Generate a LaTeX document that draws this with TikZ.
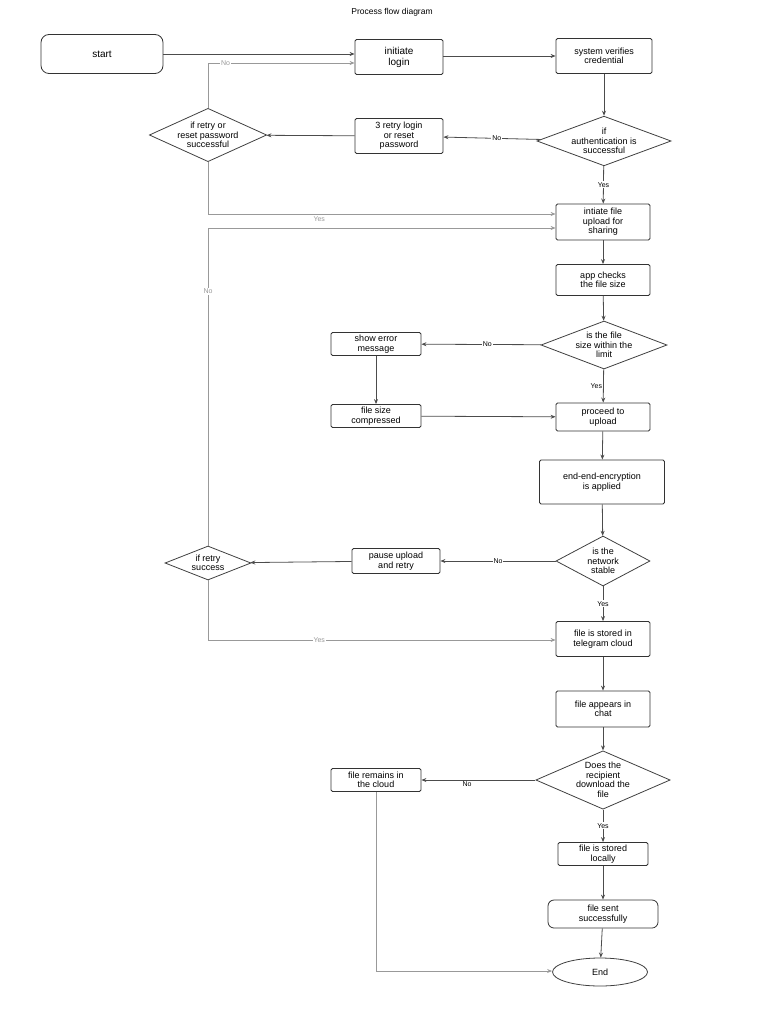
\documentclass[tikz,border=0pt]{standalone}
\usepackage{fontspec}
\setmainfont{Liberation Sans}
\usetikzlibrary{shapes.geometric,arrows.meta}
\tikzset{
  box/.style={draw=black!80,thick,rounded corners=1.5pt,align=center,font=\fontsize{9}{9.5}\selectfont,inner sep=1pt},
  dec/.style={draw=black!75,thick,diamond,aspect=#1,align=center,font=\fontsize{9}{9.5}\selectfont,inner sep=0pt},
  flow/.style={draw=black!70,thick,-{Stealth[length=5pt,width=4pt]}},
  lab/.style={font=\fontsize{7}{7}\selectfont,fill=white,inner sep=1pt}
}
\begin{document}
\begin{tikzpicture}[x=1pt,y=-1pt]
\useasboundingbox (0,0) rectangle (768,1024);
\node[font=\fontsize{8.5}{9}\selectfont] (title) at (392,12) {Process flow diagram};
\node[box,rounded corners=8pt,minimum width=122,minimum height=39,font=\fontsize{10}{11}\selectfont] (start) at (102,54) {start};
\node[box,minimum width=88,minimum height=35,font=\fontsize{10}{11}\selectfont] (login) at (399,57) {initiate\\login};
\node[box,minimum width=96,minimum height=35] (verify) at (604,56) {system verifies\\credential};
\node[dec=2.7,minimum width=126,minimum height=46] (auth) at (604,141) {if\\authentication is\\successful};
\node[box,minimum width=88,minimum height=35] (retry3) at (399,136) {3 retry login\\or reset\\password};
\node[dec=2.2,minimum width=111,minimum height=50] (rdec) at (208,135) {if retry or\\reset password\\successful};
\node[box,minimum width=94,minimum height=36] (upload) at (603,222) {intiate file\\upload for\\sharing};
\node[box,minimum width=94,minimum height=31] (checks) at (603,280) {app checks\\the file size};
\node[dec=2.6,minimum width=126,minimum height=48] (size) at (604,345) {is the file\\size within the\\limit};
\node[box,minimum width=90,minimum height=23] (error) at (376,344) {show error\\message};
\node[box,minimum width=90,minimum height=23] (comp) at (376,416) {file size\\compressed};
\node[box,minimum width=94,minimum height=28] (proceed) at (603,417) {proceed to\\upload};
\node[box,minimum width=125,minimum height=44] (enc) at (602,482) {end-end-encryption\\is applied};
\node[dec=1.9,minimum width=94,minimum height=50] (net) at (603,561) {is the\\network\\stable};
\node[box,minimum width=88,minimum height=25] (pause) at (396,561) {pause upload\\and retry};
\node[dec=2.5,minimum width=86,minimum height=34] (sdec) at (208,563) {if retry\\success};
\node[box,minimum width=94,minimum height=35] (cloud) at (603,639) {file is stored in\\telegram cloud};
\node[box,minimum width=94,minimum height=36] (appear) at (603,709) {file appears in\\chat};
\node[dec=2.3,minimum width=127,minimum height=56] (dl) at (603,780) {Does the\\recipient\\download the\\file};
\node[box,minimum width=90,minimum height=23] (remain) at (376,780) {file remains in\\the cloud};
\node[box,minimum width=90,minimum height=23] (local) at (603,854) {file is stored\\locally};
\node[box,rounded corners=6pt,minimum width=110,minimum height=28] (sent) at (603,914) {file sent\\successfully};
\node[draw=black!75,thick,ellipse,minimum width=95,minimum height=28,font=\fontsize{9}{9.5}\selectfont] (end) at (600,972) {End};
\coordinate (c1) at (208,63);
\coordinate (c2) at (208,214);
\coordinate (c3) at (208,228);
\coordinate (c4) at (208,640);
\coordinate (c5) at (376,971);

\draw[flow] (start) -- (login.west |- start);
\draw[flow,black!40] (rdec.north) -- (c1) -- node[lab,pos=0.12]{No} (login.west |- c1);
\draw[flow] (login.east |- verify) -- (verify);
\draw[flow] (verify) -- (auth);
\draw[flow] (auth) -- node[lab,pos=0.45]{No} (retry3);
\draw[flow] (retry3) -- (rdec);
\draw[flow,black!40] (rdec.south) -- (c2) -- node[lab,below=1pt,fill=none,pos=0.32]{Yes} (upload.west |- c2);
\draw[flow] (auth) -- node[lab]{Yes} (upload);
\draw[flow,black!40] (sdec.north) -- node[lab,pos=0.8]{No} (c3) -- (upload.west |- c3);
\draw[flow] (upload) -- (checks);
\draw[flow] (checks) -- (size);
\draw[flow] (size) -- node[lab,pos=0.45]{No} (error);
\draw[flow] (size) -- node[lab,left=0pt,fill=none]{Yes} (proceed);
\draw[flow] (error) -- (comp);
\draw[flow] (comp) -- (proceed);
\draw[flow] (proceed) -- (enc);
\draw[flow] (enc) -- (net);
\draw[flow] (net) -- node[lab,pos=0.5]{No} (pause);
\draw[flow] (pause) -- (sdec);
\draw[flow,black!40] (sdec.south) -- (c4) -- node[lab,pos=0.32]{Yes} (cloud.west |- c4);
\draw[flow] (net) -- node[lab]{Yes} (cloud);
\draw[flow] (cloud) -- (appear);
\draw[flow] (appear) -- (dl);
\draw[flow] (dl) -- node[lab,below=0pt,fill=none,pos=0.6]{No} (remain);
\draw[flow] (dl) -- node[lab]{Yes} (local);
\draw[flow] (local) -- (sent);
\draw[flow] (sent) -- (end);
\draw[flow,black!40] (remain.south) -- (c5) -- (end.west |- c5);
\end{tikzpicture}
\end{document}
